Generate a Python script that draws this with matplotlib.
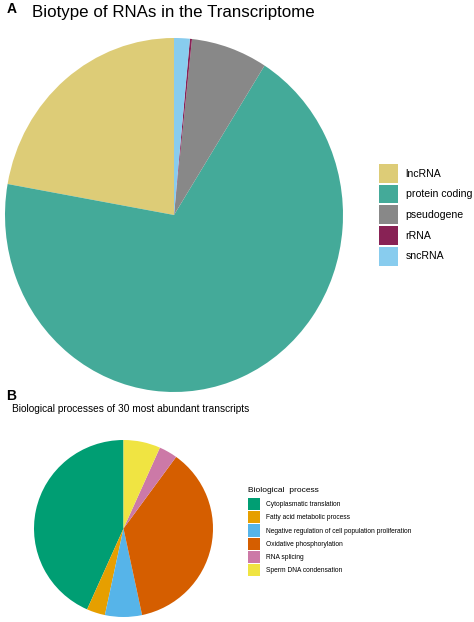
import matplotlib.pyplot as plt
from matplotlib.patches import Patch

plt.rcParams['font.family'] = ['Liberation Sans', 'DejaVu Sans']

# Panel A data: biotype fractions
biotypes = ['lncRNA', 'protein coding', 'pseudogene', 'rRNA', 'sncRNA']
biotype_frac = [0.222, 0.688, 0.073, 0.002, 0.015]
biotype_colors = ['#DDCC77', '#44AA99', '#888888', '#882255', '#88CCEE']

# Panel B data: counts among 30 most abundant transcripts
processes = ['Cytoplasmatic translation', 'Fatty acid metabolic process',
             'Negative regulation of cell population proliferation',
             'Oxidative phosphorylation', 'RNA splicing', 'Sperm DNA condensation']
process_counts = [13, 1, 2, 11, 1, 2]
process_colors = ['#009E73', '#E69F00', '#56B4E9', '#D55E00', '#CC79A7', '#F0E442']

W, H = 474, 622
fig = plt.figure(figsize=(W / 100, H / 100), dpi=100)


def box(x0, y0, x1, y1):
    # pixel box (top-left origin) -> figure fraction rect
    return [x0 / W, 1 - y1 / H, (x1 - x0) / W, (y1 - y0) / H]


# Panel A
axA = fig.add_axes(box(5, 38, 343, 392))
axA.pie(biotype_frac, colors=biotype_colors, startangle=90, counterclock=True,
        wedgeprops=dict(linewidth=0))
axA.set_aspect('auto')
axA.set_xlim(-1, 1)
axA.set_ylim(-1, 1)

fig.text(7 / W, 1 - 9 / H, 'A', fontsize=10, fontweight='bold', va='center', ha='left')
fig.text(32 / W, 1 - 13 / H, 'Biotype of RNAs in the Transcriptome', fontsize=12.2,
         va='center', ha='left')

handlesA = [Patch(facecolor=c, edgecolor='none') for c in biotype_colors]
fig.legend(handlesA, biotypes, loc='upper left', bbox_to_anchor=(379 / W, 1 - 164 / H),
           frameon=False, fontsize=7.6, handlelength=1.8, handleheight=2.35,
           handletextpad=0.72, labelspacing=0.19, borderpad=0, borderaxespad=0)

# Panel B
axB = fig.add_axes(box(34, 440, 213, 617))
axB.pie(process_counts, colors=process_colors, startangle=90, counterclock=True,
        wedgeprops=dict(linewidth=0))
axB.set_aspect('auto')
axB.set_xlim(-1, 1)
axB.set_ylim(-1, 1)

fig.text(6 / W, 1 - 396 / H, 'B', fontsize=10, fontweight='bold', va='center', ha='left')
fig.text(12 / W, 1 - 409 / H, 'Biological processes of 30 most abundant transcripts',
         fontsize=7.3, va='center', ha='left')

fig.text(248 / W, 1 - 490 / H, 'Biological  process', fontsize=6.0, va='center', ha='left')
handlesB = [Patch(facecolor=c, edgecolor='none') for c in process_colors]
fig.legend(handlesB, processes, loc='upper left', bbox_to_anchor=(248 / W, 1 - 498 / H),
           frameon=False, fontsize=4.8,
           handlelength=1.8, handleheight=2.4, handletextpad=0.9, labelspacing=0.18,
           borderpad=0, borderaxespad=0)

fig.savefig('out.png', dpi=100)
